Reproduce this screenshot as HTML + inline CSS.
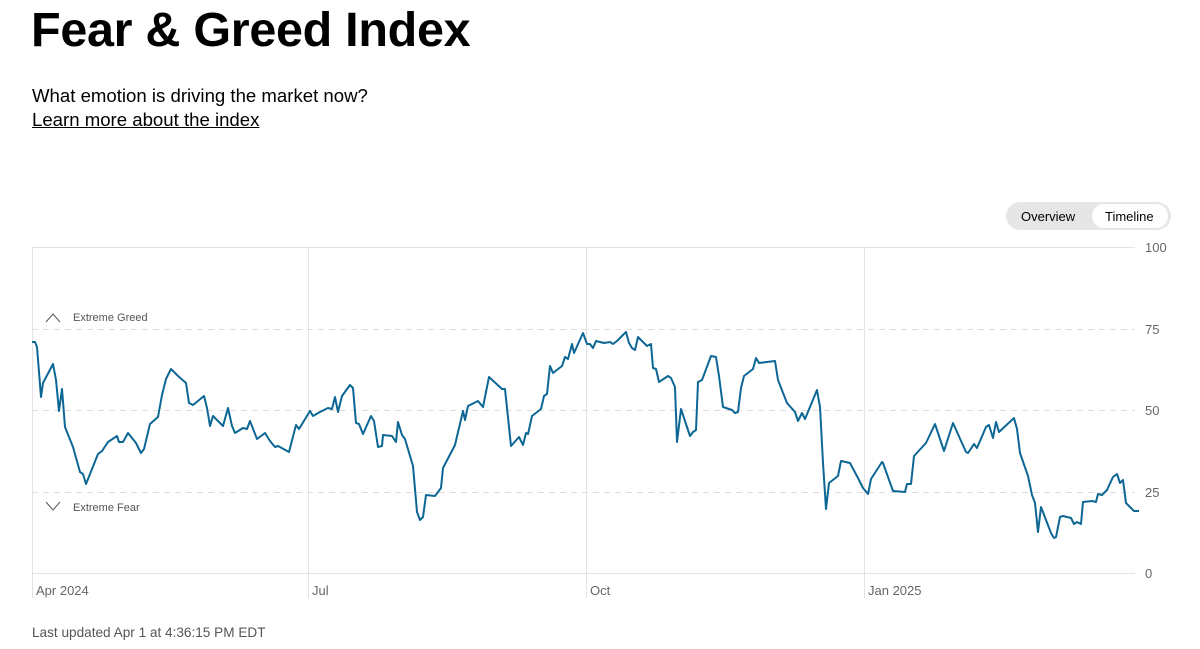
<!DOCTYPE html>
<html><head><meta charset="utf-8"><style>
body{margin:0;width:1200px;height:649px;background:#fff;font-family:"Liberation Sans",Arial,sans-serif;position:relative;overflow:hidden;color:#000}
h1{position:absolute;left:31px;top:2px;margin:0;font-size:48.5px;font-weight:bold;letter-spacing:-0.3px}
.sub{position:absolute;left:32px;top:85px;font-size:18.6px}
.lnk{position:absolute;left:32px;top:109px;font-size:18.6px;text-decoration:underline}
.tog{position:absolute;left:1006px;top:202px;width:165px;height:28px;border-radius:14px;background:#e6e6e6;font-size:13px}
.tog span{position:absolute;top:7px}
.tog .on{position:absolute;left:86px;top:2px;width:76px;height:24px;border-radius:12px;background:#fff}
.foot{position:absolute;left:32px;top:625px;font-size:13.6px;color:#555}
</style></head><body>
<h1>Fear &amp; Greed Index</h1>
<div class="sub">What emotion is driving the market now?</div>
<div class="lnk">Learn more about the index</div>
<div class="tog"><div class="on"></div><span style="left:15px">Overview</span><span style="left:99px">Timeline</span></div>
<svg width="1200" height="649" style="position:absolute;left:0;top:0" font-family="Liberation Sans, Arial, sans-serif">
<g stroke="#e3e3e3" stroke-width="1">
<line x1="32" y1="247.5" x2="1135" y2="247.5"/>
<line x1="32" y1="573.5" x2="1135" y2="573.5"/>
<line x1="32.5" y1="247" x2="32.5" y2="598"/>
<line x1="308.5" y1="247" x2="308.5" y2="598"/>
<line x1="586.5" y1="247" x2="586.5" y2="598"/>
<line x1="864.5" y1="247" x2="864.5" y2="598"/>
</g>
<g stroke="#ddd" stroke-dasharray="6,5">
<line x1="32" y1="329.5" x2="1135" y2="329.5"/>
<line x1="32" y1="410.5" x2="1135" y2="410.5"/>
<line x1="32" y1="492.5" x2="1135" y2="492.5"/>
</g>
<g fill="#666" font-size="13">
<text x="1145" y="252">100</text><text x="1145" y="334">75</text><text x="1145" y="415">50</text><text x="1145" y="497">25</text><text x="1145" y="578">0</text>
<text x="36" y="595">Apr 2024</text><text x="312" y="595">Jul</text><text x="590" y="595">Oct</text><text x="868" y="595">Jan 2025</text>
</g>
<g fill="#555" font-size="11"><text x="73" y="321">Extreme Greed</text><text x="73" y="511">Extreme Fear</text></g>
<polyline points="46,322 53,314 60,322" fill="none" stroke="#555" stroke-width="1"/>
<polyline points="46,502 53,510 60,502" fill="none" stroke="#555" stroke-width="1"/>
<polyline fill="none" stroke="#0d6795" stroke-width="2" stroke-linejoin="round" points="32,342 35,342 37,347 41,397 43,383 53,364 56,380 59,411 62,389 65,427 73,447 80,472 83,474 86,484 98,454 102,451 108,442 117,436 119,442 123,442 128,433 136,443 141,453 144,449 150,424 158,417 162,395 166,379 171,369 178,376 186,383 189,403 193,405 204,396 207,408 210,426 213,416 223,426 228,408 232,426 235,433 243,428 247,429 250,421 257,439 265,433 270,441 275,447 278,446 289,452 296,425 299,429 310,411 313,416 320,412 328,408 332,409 335,397 338,412 342,396 350,385 353,388 356,423 359,424 363,434 371,416 374,421 378,447 382,446 383,435 392,436 396,442 398,422 402,435 405,439 413,466 417,512 420,520 423,517 426,495 435,496 441,488 443,468 455,445 463,411 465,420 468,406 478,401 483,407 489,377 502,389 505,389 507,408 511,446 519,437 523,445 526,433 528,434 532,416 541,409 544,396 547,394 550,366 553,373 562,366 565,357 568,359 572,344 574,353 583,333 587,344 590,344 593,348 596,341 604,343 610,342 613,344 617,341 626,332 629,343 632,348 635,350 638,337 647,346 651,344 653,368 656,369 659,382 668,376 671,378 675,387 677,442 681,409 690,436 693,432 696,430 698,382 702,380 711,356 716,357 719,376 723,407 732,410 735,413 738,412 741,388 744,376 753,369 756,358 759,363 767,362 775,361 778,380 787,403 795,412 798,421 802,413 805,419 817,390 820,407 823,463 826,509 829,483 838,476 841,461 850,463 858,478 863,488 868,494 871,479 882,462 883,463 893,491 905,492 907,484 911,484 914,456 926,443 935,424 944,451 953,423 966,452 968,453 974,444 977,448 986,427 989,425 993,438 996,422 999,432 1014,418 1017,429 1020,453 1028,476 1032,495 1035,503 1038,532 1041,507 1051,533 1054,538 1056,537 1060,517 1063,516 1071,518 1074,524 1077,522 1081,524 1083,502 1092,501 1096,502 1098,494 1102,495 1107,490 1113,477 1117,474 1120,483 1123,480 1126,503 1134,511 1139,511"/>
</svg>
<div class="foot">Last updated Apr 1 at 4:36:15 PM EDT</div>
</body></html>
